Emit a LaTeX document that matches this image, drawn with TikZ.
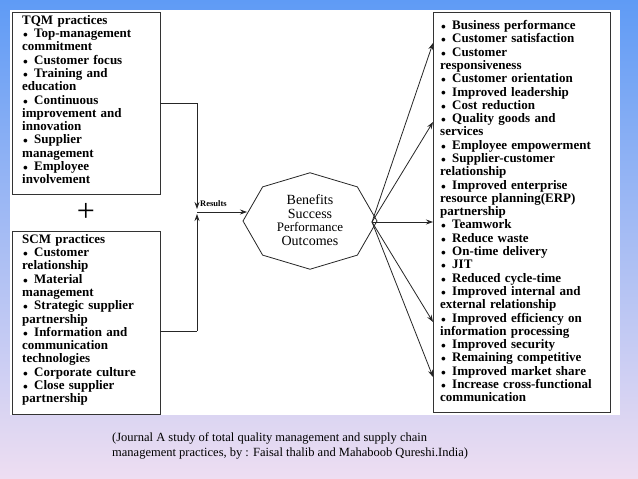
\documentclass[tikz,border=0pt]{standalone}
\usepackage{fontspec}
\setmainfont{Liberation Serif}
\usetikzlibrary{shapes.geometric,arrows.meta}
\newcommand\bi[1]{\par\hangindent=12pt\hangafter=1\noindent\makebox[12pt][l]{\hspace{1pt}\scalebox{0.8}{$\bullet$}}#1\par}
\begin{document}
\begin{tikzpicture}[x=1pt,y=-1pt,
 box/.style={draw=black!80,line width=0.8pt,fill=white,inner sep=0pt},
 lst/.style={anchor=north west,inner sep=0pt,text width=#1,font=\bfseries\fontsize{13}{13.3}\selectfont},
 ar/.style={-{Stealth[length=7pt,width=5pt]},line width=0.8pt,black!85},
 ln/.style={line width=0.8pt,black!85}]
\useasboundingbox (0,0) rectangle (638,479);
\shade[top color={rgb,255:red,95;green,155;blue,245},bottom color={rgb,255:red,238;green,222;blue,242}] (0,0) rectangle (638,479);
\fill[white] (10,10) rectangle (620,415);
% boxes
\node[box,minimum width=148,minimum height=182,anchor=north west] (tqm) at (12,12) {};
\node[box,minimum width=148,minimum height=183,anchor=north west] (scm) at (12,231) {};
\node[box,minimum width=177,minimum height=400,anchor=north west] (res) at (433,12) {};
\node[lst=160] (tqmt) at (22,15) {\noindent TQM practices
\bi{Top-management\\commitment}
\bi{Customer focus}
\bi{Training and\\education}
\bi{Continuous\\improvement and\\innovation}
\bi{Supplier\\management}
\bi{Employee\\involvement}};
\node[lst=160] (scmt) at (22,234) {\noindent SCM practices
\bi{Customer\\relationship}
\bi{Material\\management}
\bi{Strategic supplier\\partnership}
\bi{Information and\\communication\\technologies}
\bi{Corporate culture}
\bi{Close supplier\\partnership}};
\node[lst=190] (rest) at (440,16) {
\bi{Business performance}
\bi{Customer satisfaction}
\bi{Customer\\responsiveness}
\bi{Customer orientation}
\bi{Improved leadership}
\bi{Cost reduction}
\bi{Quality goods and\\services}
\bi{Employee empowerment}
\bi{Supplier-customer\\relationship}
\bi{Improved enterprise\\resource planning(ERP)\\partnership}
\bi{Teamwork}
\bi{Reduce waste}
\bi{On-time delivery}
\bi{JIT}
\bi{Reduced cycle-time}
\bi{Improved internal and\\external relationship}
\bi{Improved efficiency on\\information processing}
\bi{Improved security}
\bi{Remaining competitive}
\bi{Improved market share}
\bi{Increase cross-functional\\communication}};
\node[font=\fontsize{32}{32}\selectfont] (plus) at (86,212) {+};
% octagon
\node[regular polygon,regular polygon sides=8,draw=black!85,line width=0.8pt,shape border rotate=22.5,minimum size=134,inner sep=0pt,yscale=0.72] (oct) at (310,221) {};
\node[align=center,font=\fontsize{14}{13.5}\selectfont] (octt) at (310,220) {Benefits\\Success\\{\fontsize{13}{13.5}\selectfont Performance}\\Outcomes};
% connectors
\coordinate (j1) at (197,209);
\coordinate (j2) at (197,214);
\coordinate (jm) at (197,212);
\draw[ln] (160,103) -- (197,103);
\draw[ar] (197,103) -- (j1);
\draw[ln] (160,331) -- (197,331);
\draw[ar] (197,331) -- (j2);
\draw[ar] (jm) -- (247,212);
\node[font=\bfseries\fontsize{8.5}{9}\selectfont,anchor=south west,inner sep=1pt] (rl) at (199,208) {Results};
\coordinate (o) at (372,222);
\foreach \yy in {43,122,222,322,377}{\draw[ar] (o) -- (433,\yy);}
\node[anchor=north west,inner sep=0pt,align=left,font=\fontsize{12.5}{15}\selectfont] (cite) at (112,432) {(Journal A study of total quality management and supply chain\\management practices, by : Faisal thalib and Mahaboob Qureshi.India)};
\end{tikzpicture}
\end{document}
